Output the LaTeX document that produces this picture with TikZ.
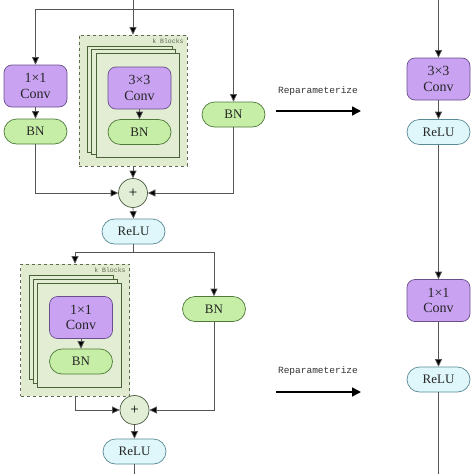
\documentclass[tikz,border=0pt]{standalone}
\usepackage{fontspec}
\setmainfont{Liberation Serif}
\newfontfamily\monofont{Liberation Mono}
\usetikzlibrary{arrows.meta}
\definecolor{convfill}{HTML}{C9A2F2}
\definecolor{convdraw}{HTML}{6A4E8C}
\definecolor{bnfill}{HTML}{C6EEA6}
\definecolor{bndraw}{HTML}{4E7A3A}
\definecolor{relufill}{HTML}{DFF7FB}
\definecolor{reludraw}{HTML}{5A8A95}
\definecolor{kfill}{HTML}{E0EBD0}
\definecolor{kdraw}{HTML}{5E6B50}
\definecolor{stackfill}{HTML}{E2EDD4}
\definecolor{stackdraw}{HTML}{4A6238}
\definecolor{plusfill}{HTML}{E2EED6}
\definecolor{plusdraw}{HTML}{4A5A40}
\definecolor{wire}{HTML}{555555}
\tikzset{
  convbox/.style={draw=convdraw, fill=convfill, rounded corners=8pt, minimum width=63pt, minimum height=42pt, align=center, inner sep=0pt, line width=0.7pt, font=\fontsize{14}{15.5}\selectfont, text=black!85},
  bnbox/.style={draw=bndraw, fill=bnfill, rounded corners=12.5pt, minimum width=63pt, minimum height=25pt, inner sep=0pt, line width=0.7pt, font=\fontsize{13}{14}\selectfont, text=black!85},
  relubox/.style={draw=reludraw, fill=relufill, rounded corners=12.5pt, minimum width=63pt, minimum height=25pt, inner sep=0pt, line width=0.7pt, font=\fontsize{13}{14}\selectfont, text=black!85},
  kbox/.style={draw=kdraw, fill=kfill, dashed, line width=0.7pt, inner sep=0pt},
  stackbox/.style={draw=stackdraw, fill=stackfill, line width=0.7pt},
  plusnode/.style={circle, draw=plusdraw, fill=plusfill, minimum size=29pt, inner sep=0pt, line width=0.7pt, font=\fontsize{15}{15}\selectfont},
  wireline/.style={draw=wire, line width=0.7pt},
  arr/.style={wireline, -{Triangle[length=7.5pt,width=7pt,fill=black]}},
  bigarr/.style={draw=black, line width=1.6pt, -{Triangle[length=9pt,width=9pt]}},
  klabel/.style={font=\monofont\fontsize{6.5}{6.5}\selectfont, text=kdraw, inner sep=0pt},
  replabel/.style={font=\monofont\fontsize{9.5}{10}\selectfont, text=black!80, inner sep=0pt}
}
\begin{document}
\begin{tikzpicture}[x=1pt,y=-1pt]
\useasboundingbox (0,0) rectangle (474,474);
% ---------- top block ----------
\node[kbox, minimum width=108pt, minimum height=131pt] (kb1) at (133,100.5) {};
\node[klabel] (kl1) at (168,41) {k Blocks};
\draw[stackbox] (87,46) rectangle (172,152);
\draw[stackbox] (91.5,49.5) rectangle (175.5,154.5);
\draw[stackbox] (96,53) rectangle (179,157);
\node[convbox] (c1) at (35.5,86) {1×1\\Conv};
\node[bnbox] (b1) at (35.5,131.5) {BN};
\node[convbox] (c2) at (139.5,88) {3×3\\Conv};
\node[bnbox] (b2) at (139.5,132) {BN};
\node[bnbox] (b3) at (233.5,114.5) {BN};
\node[plusnode] (p1) at (133,193) {+};
\node[relubox] (r1) at (133.5,231.5) {ReLU};
\coordinate (in1) at (133,0);
\coordinate (j1) at (133,9.5);
\draw[arr] (in1) -- (kb1.north);
\draw[arr] (j1) -| (c1.north);
\draw[arr] (j1) -| (b3.north);
\draw[arr] (c1) -- (b1);
\draw[arr] (c2) -- (b2);
\draw[arr] (b1.south) |- (p1.west);
\draw[arr] (b3.south) |- (p1.east);
\draw[arr] (kb1.south) -- (p1.north);
\draw[arr] (p1.south) -- (r1.north);
% ---------- bottom block ----------
\node[kbox, minimum width=109pt, minimum height=132pt] (kb2) at (75,330) {};
\node[klabel] (kl2) at (110,270) {k Blocks};
\draw[stackbox] (29,275) rectangle (113,379);
\draw[stackbox] (33,279) rectangle (117,383);
\draw[stackbox] (37,283) rectangle (121,387);
\node[convbox] (c3) at (81,317.5) {1×1\\Conv};
\node[bnbox] (b4) at (81,361.5) {BN};
\node[bnbox] (b5) at (214,309) {BN};
\node[plusnode] (p2) at (134.5,410) {+};
\node[relubox] (r2) at (134.5,451.5) {ReLU};
\coordinate (j2) at (133.5,252);
\coordinate (out2) at (134.5,474);
\draw[wireline] (r1.south) -- (j2);
\draw[arr] (j2) -| (kb2.north);
\draw[arr] (j2) -| (b5.north);
\draw[arr] (c3) -- (b4);
\draw[arr] (kb2.south) |- (p2.west);
\draw[arr] (b5.south) |- (p2.east);
\draw[arr] (p2.south) -- (r2.north);
\draw[wireline] (r2.south) -- (out2);
% ---------- right column ----------
\node[convbox] (c4) at (438.5,79) {3×3\\Conv};
\node[relubox] (r3) at (438.5,132) {ReLU};
\node[convbox] (c5) at (438.5,300.5) {1×1\\Conv};
\node[relubox] (r4) at (438.5,379.5) {ReLU};
\coordinate (in3) at (438.5,0);
\coordinate (out3) at (438.5,474);
\draw[arr] (in3) -- (c4.north);
\draw[arr] (c4) -- (r3);
\draw[arr] (r3) -- (c5);
\draw[arr] (c5) -- (r4);
\draw[wireline] (r4.south) -- (out3);
% ---------- reparameterize arrows ----------
\node[replabel] (t1) at (318,91) {Reparameterize};
\coordinate (a1s) at (276,111);
\coordinate (a1e) at (361,111);
\draw[bigarr] (a1s) -- (a1e);
\node[replabel] (t2) at (318,371) {Reparameterize};
\coordinate (a2s) at (276,392);
\coordinate (a2e) at (361,392);
\draw[bigarr] (a2s) -- (a2e);
\end{tikzpicture}
\end{document}
